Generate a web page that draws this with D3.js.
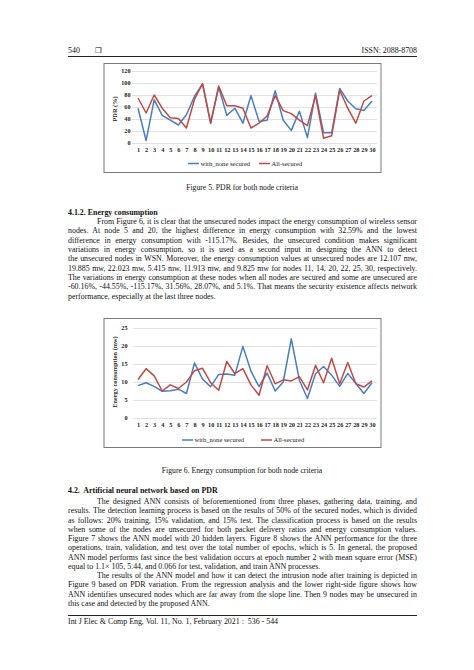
<!DOCTYPE html>
<html>
<head>
<meta charset="utf-8">
<script src="https://cdn.jsdelivr.net/npm/d3@7"></script>
<style>
  body { margin: 0; background: #fff; }
  svg { display: block; font-family: "Liberation Serif", "Times New Roman", serif; }
  text { white-space: pre; }
</style>
</head>
<body>
<div id="page"></div>
<script>
// node numbers on the x axis
const nodes = [1, 2, 3, 4, 5, 6, 7, 8, 9, 10, 11, 12, 13, 14, 15, 16, 17, 18, 19, 20, 21, 22, 23, 24, 25, 26, 27, 28, 29, 30];
// Figure 5: PDR (%)
const pdrNone = [58, 4, 72, 46, 38, 30, 47, 78, 98, 33, 93, 46, 58, 33, 79, 36, 38, 87, 38, 21, 53, 9, 83, 17, 17, 91, 70, 57, 54, 70];
const pdrAll = [75, 50, 80, 58, 42, 41, 25, 73, 99, 33, 95, 62, 62, 58, 25, 33, 45, 79, 54, 49, 38, 29, 79, 8, 12, 88, 58, 33, 70, 79];
const pdrTicks = [0, 20, 40, 60, 80, 100, 120];
// Figure 6: energy consumption (mw)
const energyNone = [9.0, 9.8, 8.8, 7.4, 7.6, 8.0, 6.8, 15.3, 10.8, 8.7, 12.1, 12.2, 11.9, 19.9, 13.0, 8.7, 12.5, 7.5, 10.0, 22.0, 10.5, 5.4, 12.3, 14.3, 11.9, 8.8, 12.4, 9.6, 6.8, 9.8];
const energyAll = [10.7, 13.7, 11.7, 7.5, 9.2, 8.2, 10.0, 13.1, 13.8, 9.8, 7.7, 15.7, 12.3, 13.7, 9.2, 6.3, 14.5, 9.5, 10.6, 10.3, 11.5, 7.8, 14.6, 9.8, 16.6, 9.5, 15.4, 9.5, 8.6, 10.3];
const energyTicks = [0, 5, 10, 15, 20, 25];
const seriesNames = ["with_none secured", "All-secured"];

// page text, one entry per printed line
const para1 = [
  "From Figure 6, it is clear that the unsecured nodes impact the energy consumption of wireless sensor",
  "nodes. At node 5 and 20, the highest difference in energy consumption with 32.59% and the lowest",
  "difference in energy consumption with -115.17%. Besides, the unsecured condition makes significant",
  "variations in energy consumption, so it is used as a second input in designing the ANN to detect",
  "the unsecured nodes in WSN. Moreover, the energy consumption values at unsecured nodes are 12.107 mw,",
  "19.885 mw, 22.023 mw, 5.415 mw, 11.913 mw, and 9.825 mw for nodes 11, 14, 20, 22, 25, 30, respectively.",
  "The variations in energy consumption at these nodes when all nodes are secured and some are unsecured are",
  "-60.16%, -44.55%, -115.17%, 31.56%, 28.07%, and 5.1%. That means the security existence affects network",
  "performance, especially at the last three nodes."
];
const para2 = [
  "The designed ANN consists of beforementioned from three phases, gathering data, training, and",
  "results. The detection learning process is based on the results of 50% of the secured nodes, which is divided",
  "as follows: 20% training, 15% validation, and 15% test. The classification process is based on the results",
  "when some of the nodes are unsecured for both packet delivery ratios and energy consumption values.",
  "Figure 7 shows the ANN model with 20 hidden layers. Figure 8 shows the ANN performance for the three",
  "operations, train, validation, and test over the total number of epochs, which is 5. In general, the proposed",
  "ANN model performs fast since the best validation occurs at epoch number 2 with mean square error (MSE)",
  "equal to 1.1\u00d7 105, 5.44, and 0.066 for test, validation, and train ANN processes."
];
const para3 = [
  "The results of the ANN model and how it can detect the intrusion node after training is depicted in",
  "Figure 9 based on PDR variation. From the regression analysis and the lower right-side figure shows how",
  "ANN identifies unsecured nodes which are far away from the slope line. Then 9 nodes may be unsecured in",
  "this case and detected by the proposed ANN."
];

const W = 474, H = 670;
const left = 68, right = 417, indent = 97;
const bodySize = 7.9;
const blue = "#4a7ebb", red = "#be4b48";

const svg = d3.select("#page").append("svg")
  .attr("width", W)
  .attr("height", H);

svg.append("rect").attr("width", W).attr("height", H).attr("fill", "#fff");

// header
svg.append("text").attr("x", left).attr("y", 53)
  .attr("font-size", bodySize).attr("fill", "#111").text("540");
svg.append("text").attr("x", 95).attr("y", 53)
  .attr("font-size", 7.5).attr("font-family", "DejaVu Sans").text("\u2750");
svg.append("text").attr("x", right).attr("y", 53).attr("text-anchor", "end")
  .attr("font-size", bodySize).attr("fill", "#111").text("ISSN: 2088-8708");
svg.append("line").attr("x1", left).attr("x2", right).attr("y1", 56.5).attr("y2", 56.5)
  .attr("stroke", "#222").attr("stroke-width", 1.1);

// a paragraph with justified lines (word spacing stretched to the right margin)
function paragraph(lines, y0, step) {
  lines.forEach((line, i) => {
    const x = i === 0 ? indent : left;
    const t = svg.append("text")
      .attr("x", x)
      .attr("y", y0 + i * step)
      .attr("font-size", bodySize)
      .attr("fill", "#111")
      .text(line);
    if (i < lines.length - 1) {
      const natural = t.node().getComputedTextLength();
      const spaces = (line.match(/ /g) || []).length;
      if (spaces > 0) t.attr("word-spacing", ((right - x) - natural) / spaces);
    }
  });
}

function heading(txt, y) {
  svg.append("text").attr("x", left).attr("y", y)
    .attr("font-size", bodySize).attr("font-weight", "bold").attr("fill", "#111")
    .text(txt);
}

// one line chart in its framed box
function drawChart(o) {
  const g = svg.append("g");
  g.append("rect")
    .attr("x", o.box[0]).attr("y", o.box[1])
    .attr("width", o.box[2]).attr("height", o.box[3])
    .attr("fill", "#fff").attr("stroke", "#7a7a7a").attr("stroke-width", 1);

  const x = d3.scalePoint().domain(nodes).range([134, 376]).padding(0.5);
  const y = d3.scaleLinear().domain(o.domain).range(o.yRange);

  // gridlines
  g.append("g")
    .attr("transform", `translate(377,0)`)
    .call(d3.axisLeft(y).tickValues(o.ticks).tickSize(377 - o.gridStart).tickFormat(""))
    .call(s => s.select(".domain").remove())
    .call(s => s.selectAll("line").attr("stroke", "#d9d9d9").attr("stroke-width", 0.8));

  // y tick labels
  g.append("g")
    .attr("transform", `translate(${o.labelRight},0)`)
    .call(d3.axisLeft(y).tickValues(o.ticks).tickSize(0).tickPadding(0))
    .call(s => s.select(".domain").remove())
    .call(s => s.selectAll("text")
      .attr("font-family", "Liberation Serif").attr("font-size", 6.2)
      .attr("font-weight", "bold").attr("fill", "#222"));

  // x tick labels
  g.append("g")
    .attr("transform", `translate(0,${o.xLabelY})`)
    .call(d3.axisBottom(x).tickSize(0).tickPadding(0))
    .call(s => s.select(".domain").remove())
    .call(s => s.selectAll("text")
      .attr("font-family", "Liberation Serif").attr("font-size", 6.3)
      .attr("font-weight", "bold").attr("fill", "#222"));

  const line = d3.line().x((d, i) => x(nodes[i])).y(d => y(d));
  [[o.none, blue], [o.all, red]].forEach(([vals, col]) => {
    g.append("path").datum(vals)
      .attr("d", line)
      .attr("fill", "none").attr("stroke", col)
      .attr("stroke-width", 1.5).attr("stroke-linejoin", "round");
  });

  // y title
  g.append("text")
    .attr("transform", `translate(${o.titleX},${o.titleY}) rotate(-90)`)
    .attr("text-anchor", "middle").attr("dy", "0.35em")
    .attr("font-size", 6.3).attr("font-weight", "bold").attr("fill", "#222")
    .text(o.title);

  // legend
  const lg = g.append("g").attr("transform", `translate(0,${o.legendY})`);
  [[seriesNames[0], blue, o.legendX[0]], [seriesNames[1], red, o.legendX[1]]].forEach(([name, col, lx]) => {
    lg.append("line").attr("x1", lx).attr("x2", lx + 11).attr("y1", 0).attr("y2", 0)
      .attr("stroke", col).attr("stroke-width", 1.5);
    lg.append("text").attr("x", lx + 12.5).attr("y", 0).attr("dy", "0.33em")
      .attr("font-size", 6.6).attr("fill", "#222").text(name);
  });
}

drawChart({
  box: [104, 63.5, 277, 109],
  domain: [0, 120], yRange: [143, 71], ticks: pdrTicks,
  gridStart: 132, labelRight: 130.5, xLabelY: 148,
  none: pdrNone, all: pdrAll,
  title: "PDR (%)", titleX: 115, titleY: 109,
  legendY: 163.5, legendX: [188, 259]
});
svg.append("text").attr("x", 242).attr("y", 190).attr("text-anchor", "middle")
  .attr("font-size", 7.7).attr("fill", "#111").text("Figure 5. PDR for both node criteria");

heading("4.1.2. Energy consumption", 215);
paragraph(para1, 224, 9.35);

drawChart({
  box: [104, 318.5, 277, 129],
  domain: [0, 25], yRange: [418, 328], ticks: energyTicks,
  gridStart: 133, labelRight: 127.5, xLabelY: 423,
  none: energyNone, all: energyAll,
  title: "Energy consumption (mw)", titleX: 115, titleY: 372,
  legendY: 440, legendX: [182, 261]
});
svg.append("text").attr("x", 242).attr("y", 473).attr("text-anchor", "middle")
  .attr("font-size", 7.7).attr("fill", "#111").text("Figure 6. Energy consumption for both node criteria");

heading("4.2.  Artificial neural network based on PDR", 493);
paragraph(para2, 504, 9.25);
paragraph(para3, 578, 9.25);

// footer
svg.append("line").attr("x1", left).attr("x2", right).attr("y1", 615.5).attr("y2", 615.5)
  .attr("stroke", "#222").attr("stroke-width", 1.1);
svg.append("text").attr("x", left).attr("y", 623.5)
  .attr("font-size", bodySize).attr("fill", "#111")
  .text("Int J Elec & Comp Eng, Vol. 11, No. 1, February 2021 :  536 - 544");
</script>
</body>
</html>
